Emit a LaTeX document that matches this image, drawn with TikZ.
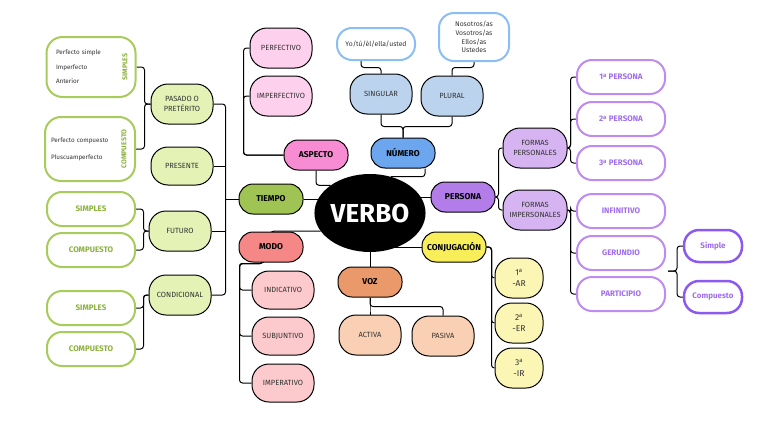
\documentclass[tikz,border=0pt]{standalone}
\usepackage{fontspec}
\setmainfont{Fira Sans}
\usetikzlibrary{shapes.geometric,backgrounds}

\definecolor{tiempogreen}{RGB}{160,196,84}
\definecolor{lightgreen}{RGB}{228,242,182}
\definecolor{leafgreen}{RGB}{168,204,92}
\definecolor{textgreen}{RGB}{140,178,62}
\definecolor{aspectopink}{RGB}{247,140,210}
\definecolor{lightpink}{RGB}{253,208,238}
\definecolor{numeroblue}{RGB}{108,166,238}
\definecolor{lightblue}{RGB}{188,211,238}
\definecolor{leafblue}{RGB}{140,190,245}
\definecolor{personapurple}{RGB}{178,125,232}
\definecolor{lightpurple}{RGB}{214,180,242}
\definecolor{leafpurple}{RGB}{190,140,240}
\definecolor{textpurple}{RGB}{160,110,235}
\definecolor{deeppurple}{RGB}{140,90,240}
\definecolor{conjyellow}{RGB}{248,238,90}
\definecolor{lightyellow}{RGB}{252,246,180}
\definecolor{vozorange}{RGB}{233,153,106}
\definecolor{lightorange}{RGB}{250,208,180}
\definecolor{modored}{RGB}{245,135,135}
\definecolor{lightred}{RGB}{252,202,204}

\begin{document}
\begin{tikzpicture}[x=1pt, y=-1pt,
  mainbox/.style={draw=black, line width=1pt, rounded corners=14pt, minimum width=64pt,
    minimum height=30pt, inner sep=1pt, font=\fontsize{8.5}{9}\selectfont\bfseries},
  subbox/.style={draw=black, line width=1pt, rounded corners=17pt, minimum width=62pt,
    minimum height=40pt, inner sep=1pt, align=center, text=black!80,
    font=\fontsize{7.5}{10}\selectfont},
  leafbox/.style={fill=white, line width=2pt, rounded corners=15pt, minimum width=88pt,
    minimum height=34pt, inner sep=1pt, align=center,
    font=\fontsize{8}{9}\selectfont\bfseries},
  link/.style={draw=black, line width=1pt, rounded corners=3pt}]

% Frame
\useasboundingbox (0,0) rectangle (768,431);

% Centre
\node[ellipse, fill=black, minimum width=98pt, minimum height=78pt, inner sep=0pt,
  text=white, font=\fontsize{26}{26}\selectfont\bfseries] (verbo) at (370,213) {VERBO};

% Main branches
\node[mainbox, fill=tiempogreen] (tiempo) at (271,199) {TIEMPO};
\node[mainbox, fill=aspectopink] (aspecto) at (316,155) {ASPECTO};
\node[mainbox, fill=numeroblue] (numero) at (403,153) {NÚMERO};
\node[mainbox, fill=personapurple] (persona) at (463,197) {PERSONA};
\node[mainbox, fill=conjyellow] (conjugacion) at (454,247) {CONJUGACIÓN};
\node[mainbox, fill=vozorange] (voz) at (370,282) {VOZ};
\node[mainbox, fill=modored] (modo) at (271,247) {MODO};

% Aspecto
\node[subbox, fill=lightpink] (perfectivo) at (281,48) {PERFECTIVO};
\node[subbox, fill=lightpink] (imperfectivo) at (281,96) {IMPERFECTIVO};

% Numero
\node[subbox, fill=lightblue] (singular) at (381,94) {SINGULAR};
\node[subbox, fill=lightblue] (plural) at (452,96) {PLURAL};
\node[leafbox, draw=leafblue, minimum width=78pt, minimum height=32pt, text=black!80,
  font=\fontsize{6.8}{9}\selectfont] (yo) at (376,44) {Yo/tú/él/ella/usted};
\node[leafbox, draw=leafblue, minimum width=70pt, minimum height=48pt, text=black!80,
  font=\fontsize{6.8}{8.6}\selectfont] (nosotros) at (474,37)
  {Nosotros/as\\Vosotros/as\\Ellos/as\\Ustedes};

% Tiempo
\node[subbox, fill=lightgreen] (pasado) at (182,104) {PASADO O\\PRETÉRITO};
\node[subbox, fill=lightgreen, minimum height=38pt] (presente) at (182,166) {PRESENTE};
\node[subbox, fill=lightgreen] (futuro) at (180,231) {FUTURO};
\node[subbox, fill=lightgreen] (condicional) at (180,295) {CONDICIONAL};

\node[leafbox, draw=leafgreen, minimum width=89pt, minimum height=60pt, rounded corners=16pt,
  text=black!80, font=\fontsize{6.3}{14.5}\selectfont, align=left, text width=70pt,
  inner xsep=9.5pt] (simp1) at (91,67) {Perfecto simple\\Imperfecto\\Anterior};
\node[rotate=90, text=textgreen, font=\fontsize{7}{8}\selectfont\bfseries] (simp1tag)
  at (125,67) {SIMPLES};
\node[leafbox, draw=leafgreen, minimum width=90pt, minimum height=64pt, rounded corners=16pt,
  text=black!80, font=\fontsize{6.3}{17}\selectfont, align=left, text width=78pt,
  inner xsep=6pt] (comp1) at (90,149) {Perfecto compuesto\\Pluscuamperfecto};
\node[rotate=90, text=textgreen, font=\fontsize{7}{8}\selectfont\bfseries] (comp1tag)
  at (124,149) {COMPUESTO};

\node[leafbox, draw=leafgreen, text=textgreen] (simp2) at (91,209) {SIMPLES};
\node[leafbox, draw=leafgreen, text=textgreen] (comp2) at (91,250) {COMPUESTO};
\node[leafbox, draw=leafgreen, text=textgreen] (simp3) at (91,308) {SIMPLES};
\node[leafbox, draw=leafgreen, text=textgreen] (comp3) at (91,349) {COMPUESTO};

% Modo
\node[subbox, fill=lightred, minimum height=38pt] (indic) at (283,290) {INDICATIVO};
\node[subbox, fill=lightred, minimum height=38pt] (subj) at (283,336) {SUBJUNTIVO};
\node[subbox, fill=lightred, minimum height=38pt] (imper) at (283,383) {IMPERATIVO};

% Voz
\node[subbox, fill=lightorange] (activa) at (370,335) {ACTIVA};
\node[subbox, fill=lightorange] (pasiva) at (443,336) {PASIVA};

% Conjugacion
\node[subbox, fill=lightyellow, minimum width=48pt, font=\fontsize{8.5}{10.5}\selectfont]
  (ar) at (519,278) {1\textsuperscript{a}\\-AR};
\node[subbox, fill=lightyellow, minimum width=48pt, font=\fontsize{8.5}{10.5}\selectfont]
  (er) at (519,323) {2\textsuperscript{a}\\-ER};
\node[subbox, fill=lightyellow, minimum width=48pt, font=\fontsize{8.5}{10.5}\selectfont]
  (ir) at (519,368) {3\textsuperscript{a}\\-IR};

% Persona
\node[subbox, fill=lightpurple, minimum width=64pt] (fpers) at (535,148) {FORMAS\\PERSONALES};
\node[subbox, fill=lightpurple, minimum width=64pt] (fimpers) at (535,210) {FORMAS\\IMPERSONALES};
\node[leafbox, draw=leafpurple, text=textpurple] (per1) at (621,77) {1\textsuperscript{a} PERSONA};
\node[leafbox, draw=leafpurple, text=textpurple] (per2) at (621,119) {2\textsuperscript{a} PERSONA};
\node[leafbox, draw=leafpurple, text=textpurple] (per3) at (621,163) {3\textsuperscript{a} PERSONA};
\node[leafbox, draw=leafpurple, text=textpurple] (infin) at (621,211) {INFINITIVO};
\node[leafbox, draw=leafpurple, text=textpurple] (gerund) at (621,253) {GERUNDIO};
\node[leafbox, draw=leafpurple, text=textpurple] (partic) at (621,294) {PARTICIPIO};
\node[leafbox, draw=deeppurple, line width=2.5pt, minimum width=58pt, minimum height=32pt,
  text=textpurple, font=\fontsize{8}{9}\selectfont\bfseries] (simple) at (713,246) {Simple};
\node[leafbox, draw=deeppurple, line width=2.5pt, minimum width=58pt, minimum height=32pt,
  text=textpurple, font=\fontsize{8}{9}\selectfont\bfseries] (compo) at (713,297) {Compuesto};
\coordinate (dash) at (668,271);

% Connectors
\begin{pgfonlayer}{background}
\draw[link] (tiempo.east) -- (tiempo.east -| verbo);
\draw[link] (aspecto.south) |- (verbo.north west);
\draw[link] ([xshift=22pt]numero.south) |- (verbo.60);
\draw[link] (persona.west) -- (persona.west -| verbo);
\draw[link] (conjugacion.west) -- (conjugacion.west -| verbo);
\draw[link] (voz.north) -- (verbo);
\draw[link] (modo.north) |- (verbo.200);

% Tiempo trunk
\coordinate (ttrunk) at ([xshift=-13pt]tiempo.west);
\draw[link] (pasado.east) -| (ttrunk) |- (condicional.east);
\draw[link] (tiempo.west) -- (ttrunk);
\draw[link] (presente.east) -- (presente.east -| ttrunk);
\draw[link] (futuro.east) -- (futuro.east -| ttrunk);
\foreach \kid in {simp1,comp1}
  \draw[link] (pasado.west) -- ++(-6,0) |- (\kid.east);
\foreach \kid in {simp2,comp2}
  \draw[link] (futuro.west) -- ++(-5,0) |- (\kid.east);
\foreach \kid in {simp3,comp3}
  \draw[link] (condicional.west) -- ++(-5,0) |- (\kid.east);

% Aspecto and Numero
\foreach \kid in {perfectivo,imperfectivo}
  \draw[link] (aspecto.west) -- ++(-40,0) |- (\kid.west);
\foreach \kid in {singular,plural}
  \draw[link] (numero.north) -- ++(0,-11) -| (\kid.south);
\draw[link] (singular.north) -- ++(0,-6) -| ([xshift=-15pt]yo.south);
\draw[link] (plural.north) -- ++(0,-8) -| (nosotros.south);

% Modo and Voz
\foreach \kid in {indic,subj,imper}
  \draw[link] ([xshift=-8pt]modo.south) -- ++(0,1) -| ([xshift=-12pt]indic.west) |- (\kid.west);
\foreach \kid in {activa,pasiva}
  \draw[link] (voz.south) -- ++(0,9) -| (\kid.north);

% Conjugacion and Persona
\foreach \kid in {ar,er,ir}
  \draw[link] (conjugacion.east) -- ++(5,0) |- (\kid.west);
\foreach \kid in {fpers,fimpers}
  \draw[link] (persona.east) -- ++(3,0) |- (\kid.west);
\foreach \kid in {per1,per2,per3}
  \draw[link] (fpers.east) -- ++(3,0) |- (\kid.west);
\foreach \kid in {infin,gerund,partic}
  \draw[link] (fimpers.east) -- ++(3,0) |- (\kid.west);
\foreach \kid in {simple,compo}
  \draw[link] (dash) -- ++(9,0) |- (\kid.west);
\end{pgfonlayer}

\end{tikzpicture}
\end{document}
